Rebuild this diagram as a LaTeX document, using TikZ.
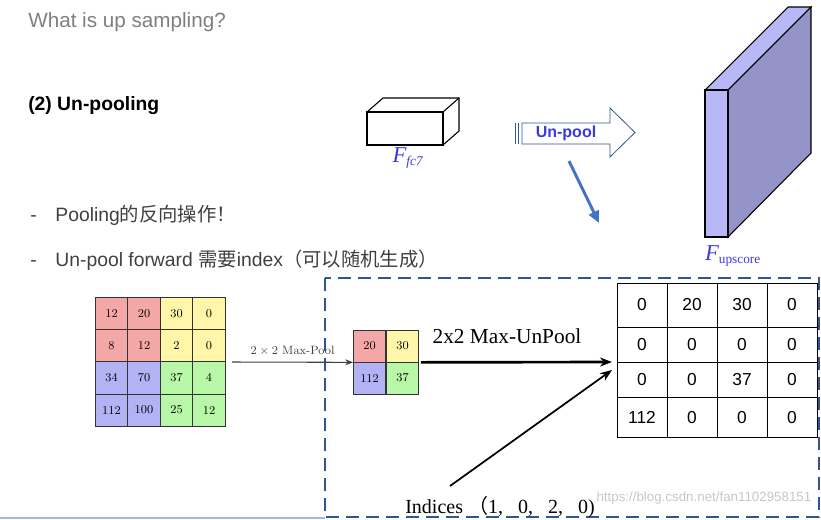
\documentclass[tikz,border=0pt]{standalone}
\usepackage{fontspec}
\setmainfont{Liberation Sans}
\newfontfamily\cjk{Noto Sans CJK SC}
\newfontfamily\tms{Liberation Serif}
\newfontfamily\lmr{Latin Modern Roman}
\usetikzlibrary{arrows.meta,shapes.arrows}
\definecolor{tgrey}{HTML}{7F7F7F}
\definecolor{dblue}{HTML}{2F5597}
\definecolor{ublue}{HTML}{4472C4}
\definecolor{lblue}{HTML}{3A3AE0}
\definecolor{cr}{HTML}{F4A7A7}
\definecolor{cy}{HTML}{FFF6AA}
\definecolor{cb}{HTML}{B2B2F5}
\definecolor{cg}{HTML}{B8F7A8}
\definecolor{slabf}{HTML}{B8B8F8}
\definecolor{slabs}{HTML}{9494C8}
\begin{document}
\begin{tikzpicture}[x=0.75pt,y=-0.75pt,
  cell/.style={draw=black!80,line width=0.5pt,minimum size=24.4pt,inner sep=0,font=\lmr\small},
  scell/.style={draw=black!80,line width=0.5pt,minimum size=24pt,inner sep=0,font=\lmr\small},
  tcell/.style={draw,line width=0.6pt,minimum width=37.5pt,inner sep=0,font=\fontsize{13}{15}\selectfont},
  txt/.style={inner sep=0,anchor=west}]
\useasboundingbox (0,0) rectangle (821,519);
\node[txt,text=tgrey,font=\fontsize{15.5}{18}\selectfont] (title) at (28,22) {What is up sampling?};
\node[txt,font=\fontsize{14.5}{17}\selectfont\bfseries] (sec) at (28,106) {(2) Un-pooling};
\node[txt,text=black!75,font=\fontsize{14.5}{17}\selectfont] (b1) at (30,215) {-\hspace{14pt}Pooling{\cjk 的反向操作！}};
\node[txt,text=black!75,font=\fontsize{14.5}{17}\selectfont] (b2) at (30,260) {-\hspace{14pt}Un-pool forward {\cjk 需要}index{\cjk （可以随机生成）}};
% Ffc7 box
\draw[line width=0.8pt,fill=white] (367,112) -- (383,98) -- (459,98) -- (459,131) -- (443,145);
\draw[line width=0.8pt] (443,112) -- (459,98);
\draw[line width=0.8pt,fill=white] (367,112) rectangle (443,145);
\node[text=lblue,font=\tms\itshape\fontsize{17}{20}\selectfont] (ffc) at (408,158) {F\textsubscript{\normalsize fc7}};
% Un-pool arrow
\draw[dblue,line width=0.6pt,fill=white] (522,123) -- (610,123) -- (610,108) -- (635,132.5) -- (610,157) -- (610,144) -- (522,144) -- cycle;
\draw[dblue,line width=0.6pt] (515,123) -- (515,144) (518,123) -- (518,144);
\node[text=lblue,font=\fontsize{12}{14}\selectfont\bfseries] (up) at (566,133) {Un-pool};
\coordinate (a1) at (569,161);
\coordinate (a2) at (599,223);
\draw[ublue,line width=2.2pt,-{Triangle[length=9pt,width=8pt]}] (a1) -- (a2);
% slab
\draw[line width=0.8pt,fill=slabf] (705,90) -- (788,7) -- (811,7) -- (728,90) -- cycle;
\draw[line width=0.8pt,fill=slabs] (728,90) -- (811,7) -- (811,153) -- (728,237) -- cycle;
\draw[line width=0.8pt,fill=slabf] (705,90) rectangle (728,237);
\node[text=lblue,font=\tms\itshape\fontsize{17}{20}\selectfont] (fup) at (733,256) {F\textsubscript{\normalsize\upshape upscore}};
% dashed box
\draw[dblue,line width=1.6pt,dash pattern=on 10pt off 5pt] (325,278) rectangle (819,517);
\draw[ublue!50,line width=1pt] (0,518) -- (325,518);
% left grid
\foreach \r/\row in {0/{12/cr,20/cr,30/cy,0/cy},1/{8/cr,12/cr,2/cy,0/cy},2/{34/cb,70/cb,37/cg,4/cg},3/{112/cb,100/cb,25/cg,12/cg}}{
  \foreach \v/\c [count=\k from 0] in \row {
    \node[cell,fill=\c] (g\r\k) at (111.5+32.5*\k,313.5+32.2*\r) {\v};
  }}
\node[scell,fill=cr] (s00) at (369.5,346) {20};
\node[scell,fill=cy] (s01) at (402.5,346) {30};
\node[scell,fill=cb] (s10) at (369.5,378) {112};
\node[scell,fill=cg] (s11) at (402.5,378) {37};
\coordinate (gr) at (232,362);
\draw[black!75,line width=0.8pt,-{Stealth[length=6pt]}] (gr) -- (s00.south west) node[midway,above=1pt,font=\lmr\small,text=black!75] {$2\times 2$ Max-Pool};
% table
\foreach \r/\row in {0/{0,20,30,0},1/{0,0,0,0},2/{0,0,37,0},3/{112,0,0,0}}{
  \foreach \v [count=\k from 0] in \row {
    \pgfmathsetmacro\yy{\r==0 ? 305 : (\r==1 ? 345 : (\r==2 ? 380 : 417.5))}
    \pgfmathsetmacro\hh{\r==0 ? 33 : (\r==1 ? 26.25 : (\r==2 ? 26.25 : 30))}
    \node[tcell,minimum height=\hh pt] (t\r\k) at (642+50*\k,\yy) {\v};
  }}
\coordinate (tin) at (612,362);
\draw[line width=2pt,-{Stealth[length=9pt]}] (s01.south east) ++(2,0) coordinate (sr) (sr) -- (tin);
\node[font=\tms\fontsize{16}{19}\selectfont] (mu) at (507,336) {2x2 Max-UnPool};
\coordinate (ind) at (450,486);
\draw[line width=1.3pt,-{Stealth[length=9pt]}] (ind) -- (612,370);
\node[font=\tms\fontsize{15}{18}\selectfont] (indt) at (500,507) {Indices\ {\cjk （}1,\ \ \ 0,\ \ \ 2,\ \ \ 0)};
\node[text=black!22,font=\fontsize{10}{12}\selectfont,anchor=east] (wm) at (816,498) {https://blog.csdn.net/fan1102958151};
\end{tikzpicture}
\end{document}
